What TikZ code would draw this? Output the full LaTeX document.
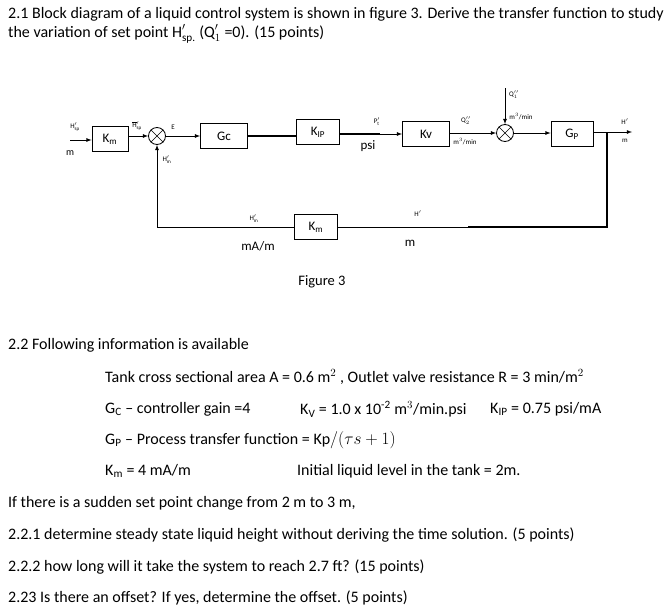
\documentclass[tikz,border=0pt]{standalone}
\usepackage{fontspec}
\setmainfont{Carlito}
\usepackage{amsmath}
\begin{document}
\begin{tikzpicture}[x=1pt,y=-1pt,
  blk/.style={draw,line width=0.8pt,minimum width=#1,minimum height=25pt,inner sep=1pt,font=\fontsize{13}{15}\selectfont},
  sumj/.style={draw,circle,minimum size=17pt,inner sep=0pt,line width=0.8pt},
  sm/.style={font=\fontsize{7}{8}\selectfont\rmfamily},
  txt/.style={anchor=west,font=\fontsize{16}{18}\selectfont,inner sep=0pt},
  ln/.style={line width=0.8pt},
  thk/.style={line width=1.8pt}]
\useasboundingbox (0,0) rectangle (669,608);
\node[txt] (t1) at (8,14) {2.1 Block diagram of a liquid control system is shown in figure 3. Derive the transfer function to study};
\node[txt] (t2) at (8,34) {the variation of set point H$'_{\text{sp.}}$ (Q$_1'$ =0). (15 points)};
% nodes
\coordinate (in) at (70,140);
\node[blk=36pt] (km1) at (110,139) {K\textsubscript{m}};
\node[sumj] (s1) at (157,136) {};
\node[blk=47pt] (gc) at (224,136) {Gc};
\node[blk=43pt] (kip) at (318,132) {K\textsubscript{IP}};
\node[blk=47pt] (kv) at (426,134) {Kv};
\node[sumj] (s2) at (505,133) {};
\node[blk=42pt] (gp) at (572,134) {G\textsubscript{P}};
\coordinate (out) at (632,132);
\coordinate (br) at (607,132);
\coordinate (q1) at (505,88);
\node[blk=43pt] (km2) at (316,227) {K\textsubscript{m}};
\coordinate (c1) at (607,227);
\coordinate (c2) at (157,227);
\draw[line width=0.5pt] (s1.north west)--(s1.south east) (s1.north east)--(s1.south west);
\draw[line width=0.5pt] (s2.north west)--(s2.south east) (s2.north east)--(s2.south west);
% connectors
\draw[ln,-latex] (in) -- (km1.west|-in);
\draw[ln,-latex] (km1.east|-s1) -- (s1.west);
\draw[ln,-latex] (s1.east) -- (gc.west);
\draw[thk] (gc.east) -- (kip.west|-gc.east);
\draw[thk] (kip.east|-kv.west) -- ++(40,0) coordinate (k1);
\draw[ln,-latex] (k1) -- (kv.west);
\draw[ln,-latex] (kv.east|-s2) -- (s2.west);
\draw[ln,-latex] (q1) -- (s2.north);
\draw[ln,-latex] (s2.east) -- (gp.west|-s2);
\draw[ln,-latex] (gp.east|-out) -- (out);
\draw[thk] (br) -- (c1) -- (468,227);
\draw[ln] (468,227) -- (km2.east);
\draw[ln,-latex] (km2.west) -- (c2) -- (s1.south);
% labels
\node[sm] (l1) at (75,127) {H$'_{\text{sp}}$};
\node[font=\fontsize{10}{11}\selectfont] (l2) at (70,153) {m};
\node[sm] (l3) at (137,126) {$\overline{\text{H}}'_{\text{sp}}$};
\node[sm] (l4) at (173,127) {E};
\node[sm] (l5) at (167,160) {H$'_{\text{m}}$};
\node[font=\fontsize{13}{15}\selectfont] (l6) at (368,146) {psi};
\node[sm] (l7) at (377,122) {P$'_{\text{t}}$};
\node[sm] (l8) at (466,121) {Q$_2''$};
\node[sm] (l9) at (465,142) {m$^3$/min};
\node[sm] (l10) at (514,95) {Q$_1''$};
\node[sm] (l11) at (521,117) {m$^3$/min};
\node[sm] (l12) at (625,122) {H$'$};
\node[sm] (l13) at (625,141) {m};
\node[sm] (l14) at (254,219) {H$'_{\text{m}}$};
\node[font=\fontsize{13}{15}\selectfont] (l15) at (258,246) {mA/m};
\node[sm] (l16) at (418,214) {H$'$};
\node[font=\fontsize{13}{15}\selectfont] (l17) at (410,243) {m};
\node[font=\fontsize{14.5}{16}\selectfont] (fig) at (322,282) {Figure 3};
% text block
\node[txt] (a1) at (8,345) {2.2 Following information is available};
\node[txt] (a2) at (105,377) {Tank cross sectional area A = 0.6 m$^2$ , Outlet valve resistance R = 3 min/m$^2$};
\node[txt] (a3) at (105,409) {G\textsubscript{C} – controller gain =4};
\node[txt] (a3b) at (300,409) {K\textsubscript{V} = 1.0 x 10$^{\text{-2}}$ m$^3$/min.psi};
\node[txt] (a3c) at (490,409) {K\textsubscript{IP} = 0.75 psi/mA};
\node[txt] (a4) at (105,440) {G\textsubscript{P} – Process transfer function = $\mathrm{Kp}/(\tau s+1)$};
\node[txt] (a5) at (105,471) {K\textsubscript{m} = 4 mA/m};
\node[txt] (a5b) at (297,471) {Initial liquid level in the tank = 2m.};
\node[txt] (a6) at (8,503) {If there is a sudden set point change from 2 m to 3 m,};
\node[txt] (a7) at (8,535) {2.2.1 determine steady state liquid height without deriving the time solution. (5 points)};
\node[txt] (a8) at (8,567) {2.2.2 how long will it take the system to reach 2.7 ft? (15 points)};
\node[txt] (a9) at (8,598) {2.23 Is there an offset? If yes, determine the offset. (5 points)};
\end{tikzpicture}
\end{document}
